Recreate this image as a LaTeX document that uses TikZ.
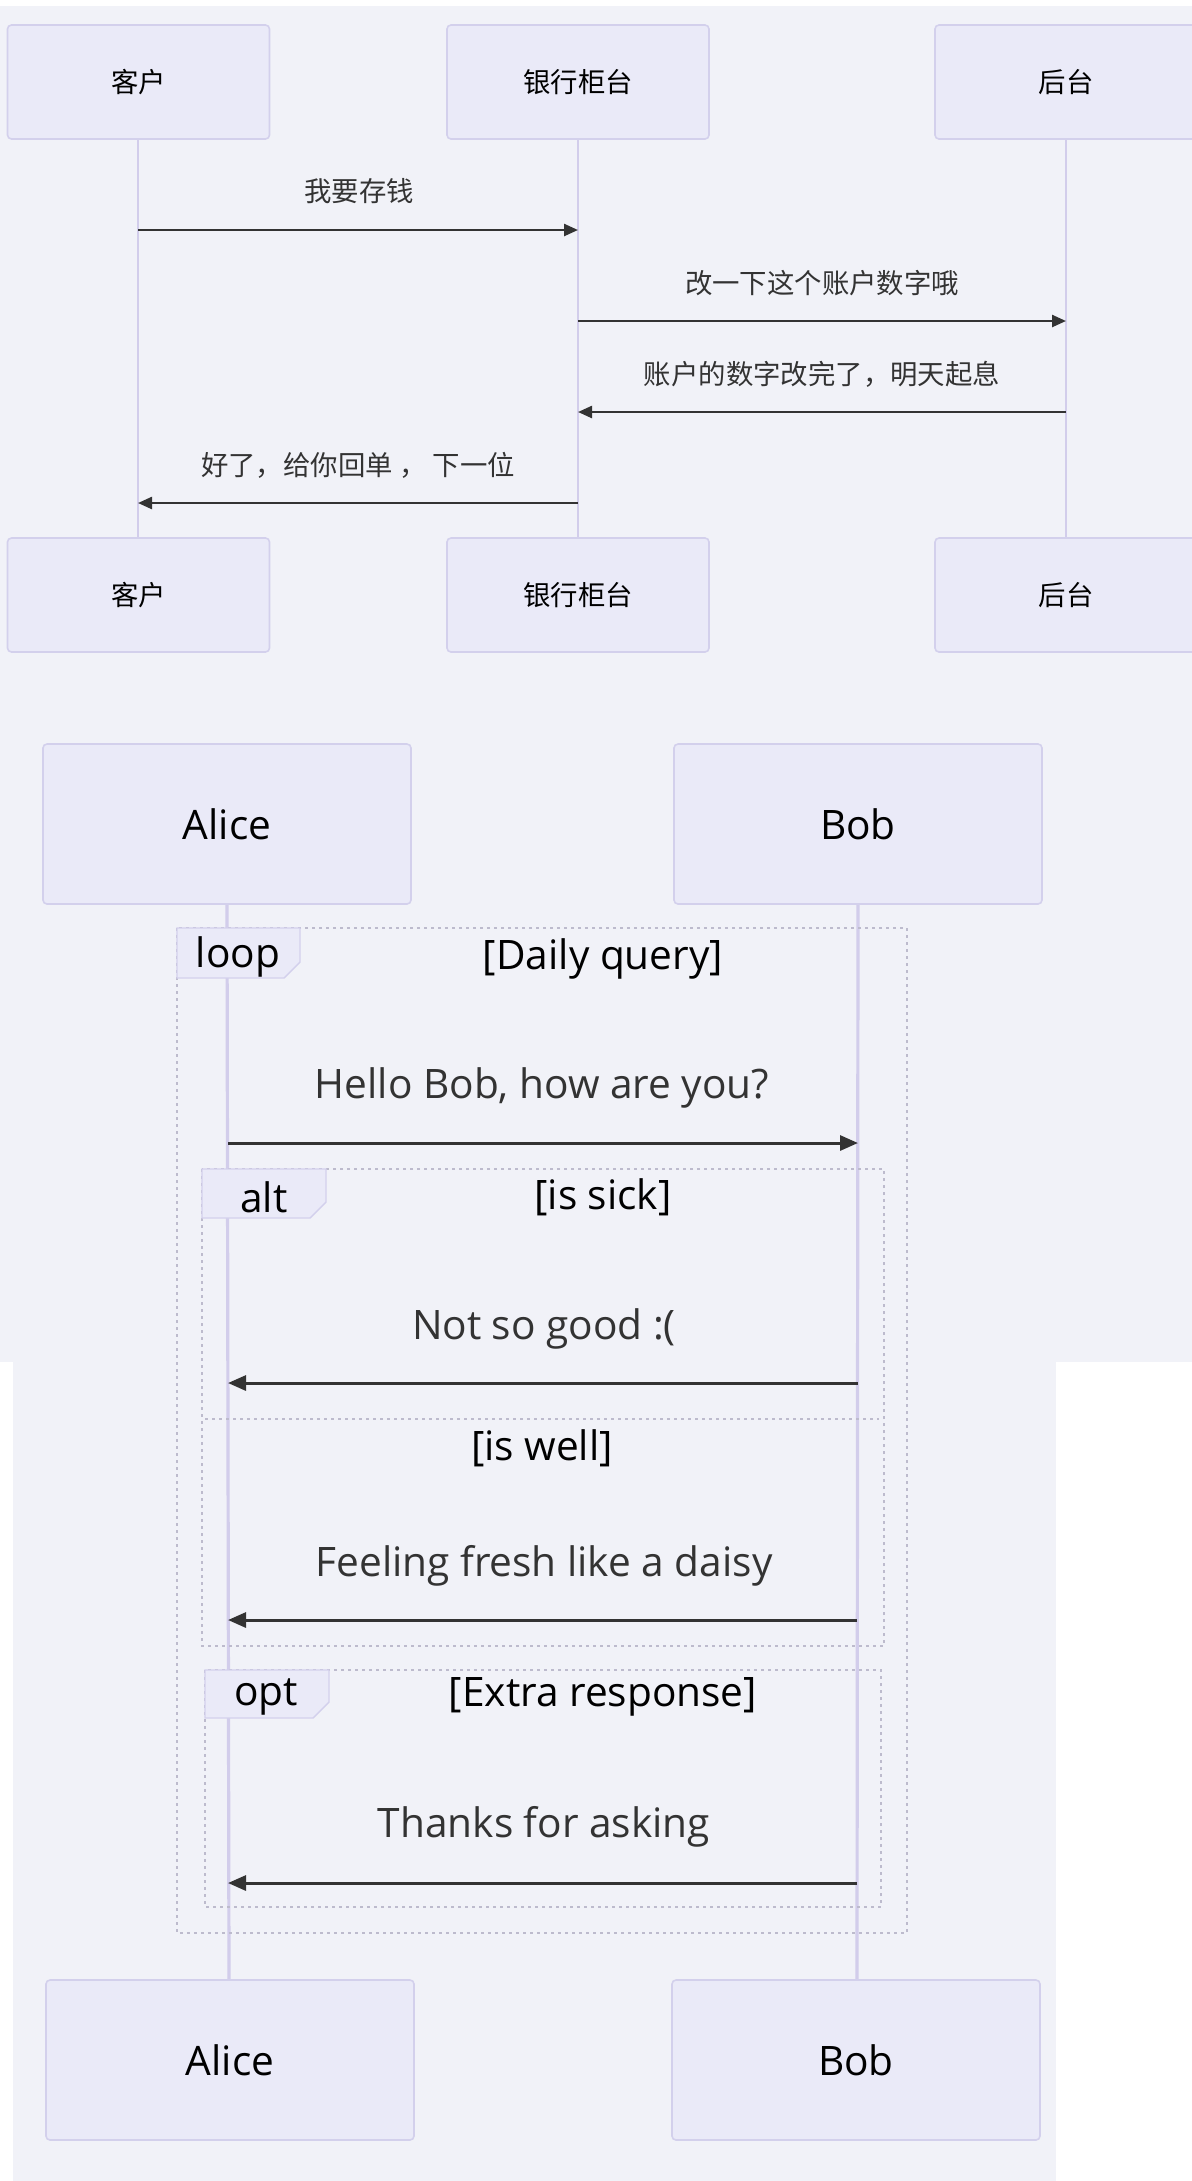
\documentclass[tikz,border=0pt]{standalone}
\usepackage{fontspec}
\setmainfont{Open Sans}
\newfontfamily\cjk{Noto Sans CJK SC}
\usetikzlibrary{arrows.meta}
\definecolor{bgc}{HTML}{F1F2F8}
\definecolor{actfill}{HTML}{EAEAF8}
\definecolor{actline}{HTML}{D3D0EC}
\definecolor{lifec}{HTML}{D2CDEB}
\definecolor{framec}{HTML}{BDBBCD}
\definecolor{msgc}{HTML}{333333}
\tikzset{
  topactor/.style={draw=actline, fill=actfill, line width=0.8pt, rounded corners=2pt,
    minimum width=131pt, minimum height=57pt, inner sep=0pt, font=\cjk\fontsize{13.7}{16}\selectfont, text=black},
  botactor/.style={draw=actline, fill=actfill, line width=0.8pt, rounded corners=2pt,
    minimum width=184pt, minimum height=80pt, inner sep=0pt, font=\fontsize{20.3}{24}\selectfont, text=black},
  toplife/.style={draw=lifec, line width=1pt},
  botlife/.style={draw=lifec, line width=1.6pt},
  topmsg/.style={draw=msgc, line width=1.2pt, -{Triangle[length=7pt,width=6pt]}},
  botmsg/.style={draw=msgc, line width=1.5pt, -{Triangle[length=9pt,width=7.5pt]}},
  toptxt/.style={font=\cjk\fontsize{13.7}{16}\selectfont, text=msgc, inner sep=0pt},
  bottxt/.style={font=\fontsize{20.3}{24}\selectfont, text=msgc, inner sep=0pt},
  lbltxt/.style={font=\fontsize{20.3}{24}\selectfont, text=black, inner sep=0pt},
  framebox/.style={draw=framec, line width=1.4pt, dash pattern=on 1.4pt off 2.1pt},
  lblbox/.style={draw=actline, fill=actfill, line width=0.7pt},
}
\begin{document}
\begin{tikzpicture}[x=0.5pt,y=-0.5pt]
\useasboundingbox (0,0) rectangle (1192,2181);
% backgrounds
\fill[white] (0,0) rectangle (1192,2181);
\fill[bgc] (0,6) rectangle (1192,1362);
\fill[bgc] (13,1362) rectangle (1056,2181);

% ===== top diagram =====
\draw[toplife] (138,139) -- (138,538);
\draw[toplife] (578,139) -- (578,538);
\draw[toplife] (1066,139) -- (1066,538);

\node[topactor] (c1) at (138.5,82) {客户};
\node[topactor] (g1) at (578,82) {银行柜台};
\node[topactor] (h1) at (1066,82) {后台};
\node[topactor] (c2) at (138.5,595) {客户};
\node[topactor] (g2) at (578,595) {银行柜台};
\node[topactor] (h2) at (1066,595) {后台};

\coordinate (m1a) at (138,230);  \coordinate (m1b) at (578,230);
\coordinate (m2a) at (578,321);  \coordinate (m2b) at (1066,321);
\coordinate (m3a) at (1066,412); \coordinate (m3b) at (578,412);
\coordinate (m4a) at (578,503);  \coordinate (m4b) at (138,503);
\draw[topmsg] (m1a) -- (m1b);
\draw[topmsg] (m2a) -- (m2b);
\draw[topmsg] (m3a) -- (m3b);
\draw[topmsg] (m4a) -- (m4b);
\node[toptxt] (t1) at (359,191) {我要存钱};
\node[toptxt] (t2) at (822,283) {改一下这个账户数字哦};
\node[toptxt] (t3) at (822,374) {账户的数字改完了，明天起息};
\node[toptxt] (t4) at (358,465) {好了，给你回单 ， 下一位};

% ===== bottom diagram =====
\draw[botlife] (227,904) -- (229,1981);
\draw[botlife] (858,904) -- (857,1981);

% frames
\draw[framebox] (177,928) rectangle (907,1933);
\draw[framebox] (202,1169) rectangle (884,1646);
\draw[framebox] (205,1419) -- (879,1419);
\draw[framebox] (205,1670) rectangle (881,1907);

% frame labels
\draw[lblbox] (177,928) -- (300,928) -- (300,962) -- (284,978) -- (177,978) -- cycle;
\draw[lblbox] (202,1169) -- (326,1169) -- (326,1202) -- (310,1218) -- (202,1218) -- cycle;
\draw[lblbox] (205,1670) -- (329,1670) -- (329,1702) -- (313,1718) -- (205,1718) -- cycle;
\node[lbltxt] (lloop) at (238,957) {loop};
\node[lbltxt] (lalt) at (264,1197) {alt};
\node[lbltxt] (lopt) at (266,1697) {opt};
\node[lbltxt] (cdq) at (603,959) {[Daily query]};
\node[lbltxt] (cis) at (603,1197) {[is sick]};
\node[lbltxt] (ciw) at (542,1448) {[is well]};
\node[lbltxt] (cer) at (603,1697) {[Extra response]};

\node[botactor] (a1) at (227,824) {Alice};
\node[botactor] (b1) at (858,824) {Bob};
\node[botactor] (a2) at (230,2060) {Alice};
\node[botactor] (b2) at (856,2060) {Bob};

\coordinate (n1a) at (228,1143);  \coordinate (n1b) at (858,1143);
\coordinate (n2a) at (858,1383);  \coordinate (n2b) at (228,1383);
\coordinate (n3a) at (857,1620);  \coordinate (n3b) at (228,1620);
\coordinate (n4a) at (857,1883);  \coordinate (n4b) at (228,1883);
\draw[botmsg] (n1a) -- (n1b);
\draw[botmsg] (n2a) -- (n2b);
\draw[botmsg] (n3a) -- (n3b);
\draw[botmsg] (n4a) -- (n4b);
\node[bottxt] (s1) at (542,1088) {Hello Bob, how are you?};
\node[bottxt] (s2) at (544,1329) {Not so good :(};
\node[bottxt] (s3) at (544,1566) {Feeling fresh like a daisy};
\node[bottxt] (s4) at (544,1827) {Thanks for asking};
\end{tikzpicture}
\end{document}
